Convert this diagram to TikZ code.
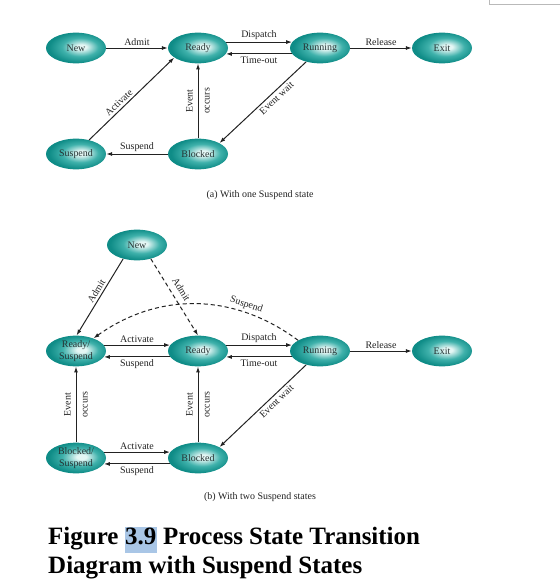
\documentclass[tikz,border=0pt]{standalone}
\usepackage{fontspec}
\setmainfont{Liberation Serif}
\usepackage{xcolor}
\usepackage{tikz}
\usetikzlibrary{shapes.geometric, arrows.meta, positioning}
\definecolor{tealdark}{HTML}{0F8C87}
\definecolor{tealmid}{HTML}{3FB1AB}
\definecolor{teallight}{HTML}{E4F6F4}
\definecolor{inkgray}{HTML}{222222}
\definecolor{statetext}{HTML}{263333}
\definecolor{selblue}{HTML}{A9C6E6}
\pgfdeclareradialshading{tealglow}{\pgfpoint{5bp}{2bp}}{color(0bp)=(teallight);
  color(4bp)=(teallight); color(15bp)=(tealmid); color(25bp)=(tealdark);
  color(50bp)=(tealdark)}
\newcommand{\lblfont}{\fontsize{8.5pt}{9.5pt}\selectfont}
\newcommand{\statefont}{\fontsize{8.5pt}{10.5pt}\selectfont}
\tikzstyle{state} = [ellipse, shade, shading=tealglow, minimum width=1.8cm,
                     minimum height=0.92cm, inner sep=0pt, align=center,
                     text=statetext, font=\statefont]
\tikzstyle{arrow} = [line width=0.85pt, draw=inkgray,
                     -{Latex[length=5pt,width=3.4pt]}]
\tikzstyle{dasharrow} = [arrow, dash pattern=on 3.5pt off 2.5pt]
\tikzstyle{lbl} = [font=\lblfont, text=inkgray, inner sep=2pt]
\tikzstyle{evlbl} = [lbl, rotate=90, align=center,
                     font=\fontsize{8.5pt}{14.5pt}\selectfont]
\begin{document}
\begin{tikzpicture}[node distance = 3.66cm]
\useasboundingbox (0,0) rectangle (16.8,-17.4);
\draw [gray!55, line width=0.5pt] (14.67,0) |- (16.8,-0.13);
\node [state] at (2.28,-1.44) (new_a) {New};
\node [state, right of=new_a] (ready_a) {Ready};
\node [state, right of=ready_a] (running_a) {Running};
\node [state, right of=running_a] (exit_a) {Exit};
\node [state, below of=ready_a, yshift=0.48cm] (blocked_a) {Blocked};
\node [state, left of=blocked_a] (suspend_a) {Suspend};
\draw [arrow] (new_a) -- node[lbl, above] {Admit} (ready_a);
\draw [arrow] (ready_a.12) -- node[lbl, above] {Dispatch} (running_a.168);
\draw [arrow] (running_a.192) -- node[lbl, below] {Time-out} (ready_a.348);
\draw [arrow] (running_a) -- node[lbl, above] {Release} (exit_a);
\draw [arrow] (running_a.225) -- node[lbl, sloped, below, pos=0.39]
	{Event wait} (blocked_a.27);
\draw [arrow] (blocked_a) -- node[evlbl] {Event\\occurs} (ready_a);
\draw [arrow] (blocked_a) -- node[lbl, above] {Suspend} (suspend_a);
\draw [arrow] (suspend_a.47) -- node[lbl, sloped, above, pos=0.4]
	{Activate} (ready_a.202);
\node [lbl] at (7.8,-5.85) (caption_a) {(a) With one Suspend state};
\node [state] at (2.28,-10.53) (ready_susp) {Ready/\\Suspend};
\node [state, right of=ready_susp] (ready_b) {Ready};
\node [state, right of=ready_b] (running_b) {Running};
\node [state, right of=running_b] (exit_b) {Exit};
\node [state, above of=ready_susp, xshift=1.83cm, yshift=-0.48cm] (new_b)
	{New};
\node [state, below of=ready_susp, yshift=0.45cm] (blocked_susp)
	{Blocked/\\Suspend};
\node [state, below of=ready_b, yshift=0.45cm] (blocked_b) {Blocked};
\draw [arrow] (new_b.225) -- node[lbl, sloped, above, pos=0.46] {Admit}
	(ready_susp.88);
\draw [dasharrow] (new_b.315) -- node[lbl, sloped, above=3pt, pos=0.47]
	{Admit} (ready_b.90);
\draw [dasharrow] (running_b.154) to[bend right=36]
	node[lbl, sloped, above, pos=0.27] {Suspend} (ready_susp.36);
\draw [arrow] (ready_susp.12) -- node[lbl, above] {Activate} (ready_b.168);
\draw [arrow] (ready_b.192) -- node[lbl, below] {Suspend} (ready_susp.348);
\draw [arrow] (ready_b.12) -- node[lbl, above] {Dispatch} (running_b.168);
\draw [arrow] (running_b.192) -- node[lbl, below] {Time-out} (ready_b.348);
\draw [arrow] (running_b) -- node[lbl, above] {Release} (exit_b);
\draw [arrow] (running_b.225) -- node[lbl, sloped, below, pos=0.39]
	{Event wait} (blocked_b.27);
\draw [arrow] (blocked_b) -- node[evlbl] {Event\\occurs} (ready_b);
\draw [arrow] (blocked_susp) -- node[evlbl] {Event\\occurs} (ready_susp);
\draw [arrow] (blocked_susp.12) -- node[lbl, above] {Activate}
	(blocked_b.168);
\draw [arrow] (blocked_b.192) -- node[lbl, below] {Suspend}
	(blocked_susp.348);
\node [lbl] at (7.8,-14.91) (caption_b) {(b) With two Suspend states};
\node [anchor=north west, inner sep=0pt, align=left,
	font=\fontsize{21.3pt}{24.8pt}\selectfont\bfseries] at (1.44,-15.8)
	(fig_title) {Figure {\setlength{\fboxsep}{0.4pt}\colorbox{selblue}{%
	\rule[-0.3em]{0pt}{1em}3.9}} Process State Transition\\Diagram with
	Suspend States};
\end{tikzpicture}
\end{document}
